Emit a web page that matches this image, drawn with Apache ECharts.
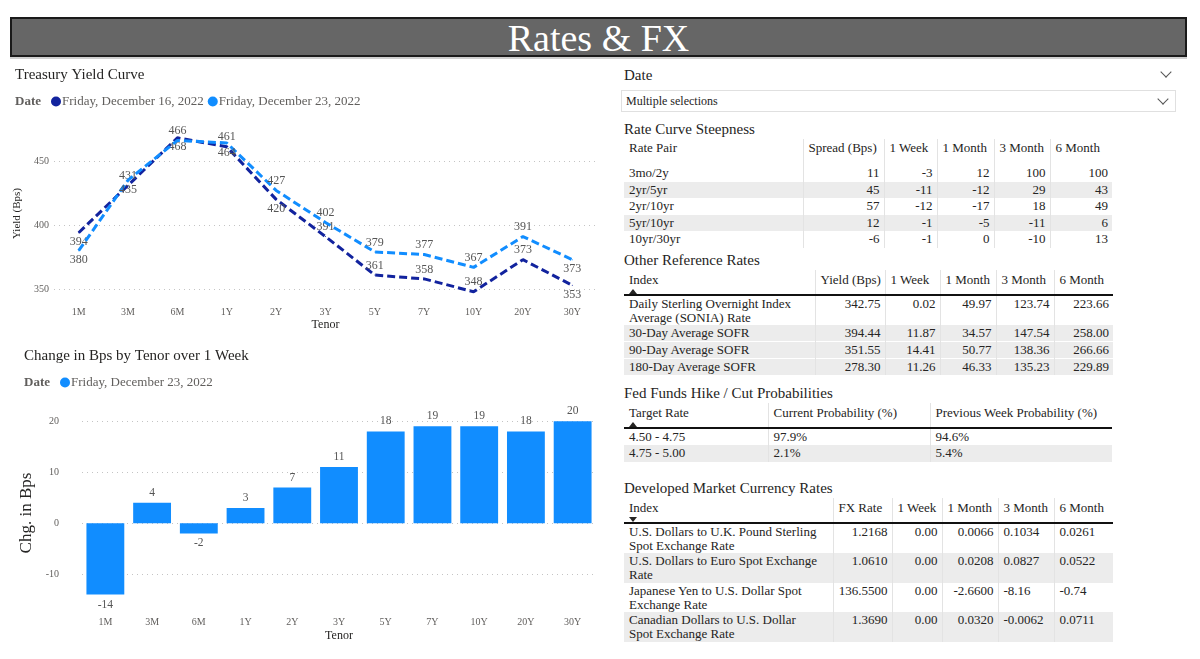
<!DOCTYPE html>
<html><head><meta charset="utf-8">
<script src="https://cdn.jsdelivr.net/npm/echarts@6/dist/echarts.min.js"></script>
<style>
html,body{margin:0;padding:0;background:#fff;}
body{width:1200px;height:659px;position:relative;overflow:hidden;font-family:'Liberation Serif',serif;color:#252423;}
.abs{position:absolute;white-space:nowrap;}
#banner{position:absolute;left:10px;top:17px;width:1173px;height:36px;background:#666666;border:2px solid #1a1a1a;box-shadow:0 2px 0 #cfcfcf;color:#fff;font-size:38px;line-height:38px;text-align:center;}
#chart{position:absolute;left:0;top:60px;width:605px;height:599px;}
.ttl{position:absolute;font-size:15px;line-height:18px;white-space:nowrap;color:#252423;}
.chev{position:absolute;width:7px;height:7px;border-right:1px solid #555;border-bottom:1px solid #555;transform:rotate(45deg);}
table.tbl{position:absolute;border-collapse:collapse;table-layout:fixed;font-size:13px;color:#252423;}
table.tbl td{padding:0 4px 0 5px;line-height:14px;vertical-align:middle;overflow:hidden;white-space:pre-line;}
table.tbl td + td{border-left:1px solid #e3e3e3;}
table.tbl tr.hd td{vertical-align:top;white-space:nowrap;}
table.tbl tr.hd.ul td{border-bottom:2px solid #111;}
table.tbl tr.g td{background:#ececec;}
table.tbl tr.g + tr.g td{border-top:1px solid #fff;}
.arr{width:0;height:0;border-left:4px solid transparent;border-right:4px solid transparent;margin-top:2px;}
.arr.up{border-bottom:5px solid #252423;}
.arr.dn{border-top:5px solid #252423;}
</style></head><body>
<div id="banner">Rates &amp; FX</div>
<div id="chart"></div>
<div class="ttl" style="left:624px;top:66px;">Date</div>
<div class="chev" style="left:1162px;top:68px;"></div>
<div class="abs" style="left:621px;top:90px;width:553px;height:20px;border:1px solid #e0e0e0;"></div>
<div class="abs" style="left:626px;top:93px;font-size:12px;line-height:16px;">Multiple selections</div>
<div class="chev" style="left:1159px;top:95px;"></div>
<div id="tables"></div>
<script>
// ---------- data ----------
const tenors = ['1M','3M','6M','1Y','2Y','3Y','5Y','7Y','10Y','20Y','30Y'];
const yieldDec16 = [394,431,468,461,420,391,361,358,348,373,353];
const yieldDec23 = [380,435,466,464,427,402,379,377,367,391,373];
const chgDec23 = [-14,4,-2,3,7,11,18,19,19,18,20];
const dateNames = ['Friday, December 16, 2022','Friday, December 23, 2022'];

const steepHeader = ['Rate Pair','Spread (Bps)','1 Week','1 Month','3 Month','6 Month'];
const steepPairs = ['3mo/2y','2yr/5yr','2yr/10yr','5yr/10yr','10yr/30yr'];
const steepSpread = [11,45,57,12,-6];
const steep1W = [-3,-11,-12,-1,-1];
const steep1M = [12,-12,-17,-5,0];
const steep3M = [100,29,18,-11,-10];
const steep6M = [100,43,49,6,13];

const refHeader = ['Index','Yield (Bps)','1 Week','1 Month','3 Month','6 Month'];
const refIndex = ['Daily Sterling Overnight Index\nAverage (SONIA) Rate','30-Day Average SOFR','90-Day Average SOFR','180-Day Average SOFR'];
const refYield = ['342.75','394.44','351.55','278.30'];
const ref1W = ['0.02','11.87','14.41','11.26'];
const ref1M = ['49.97','34.57','50.77','46.33'];
const ref3M = ['123.74','147.54','138.36','135.23'];
const ref6M = ['223.66','258.00','266.66','229.89'];

const fedHeader = ['Target Rate','Current Probability (%)','Previous Week Probability (%)'];
const fedTarget = ['4.50 - 4.75','4.75 - 5.00'];
const fedCurrent = ['97.9%','2.1%'];
const fedPrevious = ['94.6%','5.4%'];

const fxHeader = ['Index','FX Rate','1 Week','1 Month','3 Month','6 Month'];
const fxIndex = ['U.S. Dollars to U.K. Pound Sterling\nSpot Exchange Rate','U.S. Dollars to Euro Spot Exchange\nRate','Japanese Yen to U.S. Dollar Spot\nExchange Rate','Canadian Dollars to U.S. Dollar\nSpot Exchange Rate'];
const fxRate = ['1.2168','1.0610','136.5500','1.3690'];
const fx1W = ['0.00','0.00','0.00','0.00'];
const fx1M = ['0.0066','0.0208','-2.6600','0.0320'];
const fx3M = ['0.1034','0.0827','-8.16','-0.0062'];
const fx6M = ['0.0261','0.0522','-0.74','0.0711'];

// ---------- tables ----------
function esc(s){return String(s).replace(/&/g,'&amp;').replace(/</g,'&lt;');}
function buildTable(o){
  let h = '<table class="tbl" style="left:'+o.left+'px;top:'+o.top+'px;width:'+o.cols.reduce((a,b)=>a+b,0)+'px"><colgroup>';
  o.cols.forEach(w=>{h+='<col style="width:'+w+'px">';});
  h += '</colgroup><tr class="hd'+(o.underline?' ul':'')+'" style="height:'+o.headerH+'px">';
  o.header.forEach((t,i)=>{
    h += '<td style="padding-top:'+o.headerPad+'px">'+esc(t)+(i===0&&o.arrow?'<div class="arr '+o.arrow+'"></div>':'')+'</td>';
  });
  h += '</tr>';
  const n = o.columns[0].length;
  for(let r=0;r<n;r++){
    h += '<tr class="'+(o.gray.includes(r)?'g':'')+'" style="height:'+o.rowH[r]+'px">';
    o.columns.forEach((col,c)=>{
      h += '<td style="text-align:'+o.align[c]+';'+(o.valign?'vertical-align:'+o.valign[c]+';padding-top:'+(o.valign[c]==='top'?1:0)+'px':'')+'">'+esc(col[r])+'</td>';
    });
    h += '</tr>';
  }
  return h+'</table>';
}
let html = '';
html += '<div class="ttl" style="left:624px;top:120px;">Rate Curve Steepness</div>';
html += buildTable({left:624,top:139,cols:[179,81,53,57,56,62],header:steepHeader,headerH:26,headerPad:2,underline:false,
  columns:[steepPairs,steepSpread,steep1W,steep1M,steep3M,steep6M],align:['left','right','right','right','right','right'],
  rowH:[16.5,16.5,16.5,16.5,16.5],gray:[1,3]});
html += '<div class="ttl" style="left:624px;top:251px;">Other Reference Rates</div>';
html += buildTable({left:624,top:270,cols:[191,70,55,56,58,59],header:refHeader,headerH:25,headerPad:3,underline:true,arrow:'up',
  columns:[refIndex,refYield,ref1W,ref1M,ref3M,ref6M],align:['left','right','right','right','right','right'],
  valign:['top','top','top','top','top','top'],rowH:[30,16.5,16.5,16.5],gray:[1,2,3]});
html += '<div class="ttl" style="left:624px;top:384px;">Fed Funds Hike / Cut Probabilities</div>';
html += buildTable({left:624,top:403,cols:[144,162,182],header:fedHeader,headerH:24,headerPad:3,underline:true,arrow:'up',
  columns:[fedTarget,fedCurrent,fedPrevious],align:['left','left','left'],rowH:[17,16.5],gray:[1]});
html += '<div class="ttl" style="left:624px;top:479px;">Developed Market Currency Rates</div>';
html += buildTable({left:624,top:498,cols:[209,59,50,56,56,59],header:fxHeader,headerH:24,headerPad:3,underline:true,arrow:'dn',
  columns:[fxIndex,fxRate,fx1W,fx1M,fx3M,fx6M],align:['left','right','right','right','left','left'],
  valign:['top','top','top','top','top','top'],rowH:[29.5,29.5,29.5,29.5],gray:[1,3]});
document.getElementById('tables').innerHTML = html;

// ---------- charts ----------
const FONT = "'Liberation Serif', serif";
const DARK = '#12239E', LIGHT = '#118DFF';
const darkBelow = ['1M','6M','2Y','30Y'];
const lightBelow = ['1M','3M','1Y','30Y'];
function lineData(vals, below){
  return vals.map((v,i)=>({value:v,label:{position:below.includes(tenors[i])?'bottom':'top'}}));
}
const labelStyle = {show:true,fontSize:12,color:'#555555',fontFamily:FONT,distance:3};
const axisLabel = {color:'#605E5C',fontSize:10,fontFamily:FONT};
const splitLine = {show:true,showMinLine:false,showMaxLine:false,lineStyle:{color:'#c4c4c4',type:[1,4],width:1}};

const chart = echarts.init(document.getElementById('chart'),null,{renderer:'canvas'});
chart.setOption({
  animation:false,
  textStyle:{fontFamily:FONT},
  title:[
    {text:'Treasury Yield Curve',left:9,top:8,padding:[0,6],textStyle:{fontSize:15,fontWeight:'normal',color:'#252423',fontFamily:FONT}},
    {text:'Date',left:9,top:35,padding:[0,6],textStyle:{fontSize:13,fontWeight:'bold',color:'#605E5C',fontFamily:FONT}},
    {text:'Change in Bps by Tenor over 1 Week',left:18,top:289,padding:[0,6],textStyle:{fontSize:15,fontWeight:'normal',color:'#252423',fontFamily:FONT}},
    {text:'Date',left:18,top:316,padding:[0,6],textStyle:{fontSize:13,fontWeight:'bold',color:'#605E5C',fontFamily:FONT}}
  ],
  legend:[
    {data:dateNames,left:51,top:35,padding:0,icon:'circle',itemWidth:10,itemHeight:10,itemGap:4,textStyle:{fontSize:13,color:'#605E5C',fontFamily:FONT,padding:[0,0,0,-4]}},
    {data:[dateNames[1]],left:60,top:316,padding:0,icon:'circle',itemWidth:10,itemHeight:10,itemGap:4,textStyle:{fontSize:13,color:'#605E5C',fontFamily:FONT,padding:[0,0,0,-4]}}
  ],
  grid:[
    {left:54,top:65,width:543,height:177},
    {left:82,top:351,width:514,height:204}
  ],
  xAxis:[
    {type:'category',gridIndex:0,data:tenors,axisLine:{show:false},axisTick:{show:false},axisLabel:Object.assign({margin:5},axisLabel),
     name:'Tenor',nameLocation:'middle',nameGap:17,nameTextStyle:{fontSize:12,color:'#252423',fontFamily:FONT}},
    {type:'category',gridIndex:1,data:tenors,axisLine:{show:false},axisTick:{show:false},axisLabel:Object.assign({margin:2},axisLabel),
     name:'Tenor',nameLocation:'middle',nameGap:15,nameTextStyle:{fontSize:12,color:'#252423',fontFamily:FONT}}
  ],
  yAxis:[
    {type:'value',gridIndex:0,min:340,max:478,splitNumber:3,axisLine:{show:false},axisTick:{show:false},
     axisLabel:Object.assign({margin:5,showMinLabel:false,showMaxLabel:false},axisLabel),splitLine:splitLine,
     name:'Yield (Bps)',nameLocation:'middle',nameGap:29,nameTextStyle:{fontSize:11,color:'#252423',fontFamily:FONT}},
    {type:'value',gridIndex:1,min:-18,max:22,splitNumber:4,axisLine:{show:false},axisTick:{show:false},
     axisLabel:Object.assign({margin:23,showMinLabel:false,showMaxLabel:false},axisLabel),splitLine:splitLine,
     name:'Chg. in Bps',nameLocation:'middle',nameGap:42,nameTextStyle:{fontSize:17,color:'#252423',fontFamily:FONT}}
  ],
  series:[
    {type:'line',name:dateNames[0],xAxisIndex:0,yAxisIndex:0,data:lineData(yieldDec16,darkBelow),
     symbol:'circle',symbolSize:1,itemStyle:{color:DARK},lineStyle:{color:DARK,width:3,type:[8,4]},label:labelStyle,z:2},
    {type:'line',name:dateNames[1],xAxisIndex:0,yAxisIndex:0,data:lineData(yieldDec23,lightBelow),
     symbol:'circle',symbolSize:1,itemStyle:{color:LIGHT},lineStyle:{color:LIGHT,width:3,type:[8,4]},label:labelStyle,z:3},
    {type:'bar',name:dateNames[1],xAxisIndex:1,yAxisIndex:1,barWidth:'81%',itemStyle:{color:LIGHT},
     data:chgDec23.map(v=>({value:v,label:{position:v<0?'bottom':'top'}})),
     label:{show:true,fontSize:11.5,color:'#555555',fontFamily:FONT,distance:4}}
  ]
});
</script>
</body></html>
